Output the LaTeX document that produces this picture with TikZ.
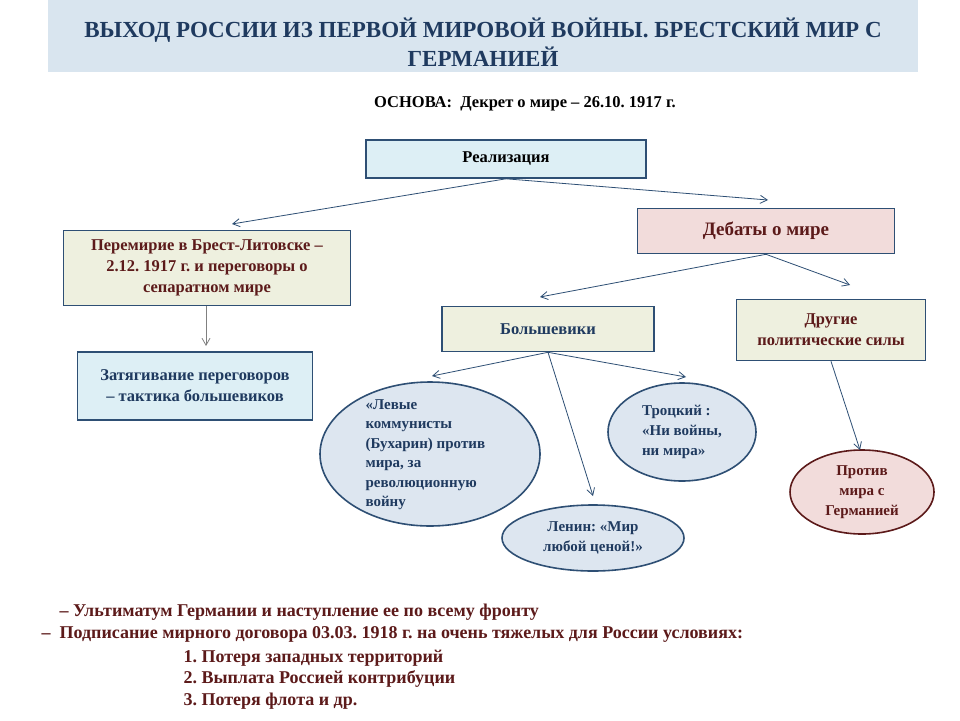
\documentclass[tikz,border=0pt]{standalone}
\usepackage{fontspec}
\setmainfont{Liberation Serif}
\frenchspacing
\usepackage{tikz}
\usetikzlibrary{arrows.meta, calc, shapes.geometric}
\definecolor{Navy}{HTML}{1F3A5F}
\definecolor{Frame}{HTML}{2E4F74}
\definecolor{Wine}{HTML}{5C1A1A}
\definecolor{Band}{HTML}{D9E5EF}
\definecolor{SkyFill}{HTML}{DDEFF5}
\definecolor{Olive}{HTML}{EEF0DF}
\definecolor{Rose}{HTML}{F2DCDB}
\definecolor{Oval}{HTML}{DDE6F0}
\tikzset{
  box/.style={draw=Frame, line width=1.6pt, align=center, font=\bfseries\fontsize{16.5}{21}\selectfont, inner sep=0pt},
  oval/.style={ellipse, draw=Frame, line width=1.6pt, fill=Oval, text=Navy, inner sep=0pt, font=\bfseries\fontsize{15}{20}\selectfont},
  link/.style={Frame, line width=0.8pt, -{Straight Barb[length=7pt, width=8pt]}}
}
\begin{document}
\begin{tikzpicture}[x=1pt, y=-1pt]
	\useasboundingbox (0,0) rectangle (960,720);
	\fill[white] (0,0) rectangle (960,720);

	\fill[Band] (48,0) rectangle (918,72);
	\node[text=Navy, align=center, font=\bfseries\fontsize{23}{29}\selectfont] (title) at (483,42)
		{ВЫХОД РОССИИ ИЗ ПЕРВОЙ МИРОВОЙ ВОЙНЫ. БРЕСТСКИЙ МИР С\\ГЕРМАНИЕЙ};
	\node[font=\bfseries\fontsize{16.5}{20}\selectfont] (basis) at (525,104) {ОСНОВА:\ \ Декрет о мире -- 26.10. 1917 г.};

	% boxes
	\node[box, fill=SkyFill, minimum width=280pt, minimum height=38pt, text=black] (real) at (506,159) {Реализация};
	\node[box, fill=Olive, minimum width=287pt, minimum height=75pt, text=Wine] (truce) at (207,268)
		{Перемирие в Брест-Литовске --\\2.12. 1917 г. и переговоры о\\сепаратном мире};
	\node[box, fill=Rose, minimum width=257pt, minimum height=45pt, text=Wine, font=\bfseries\fontsize{19}{23}\selectfont] (debate) at (766,231) {Дебаты о мире};
	\node[box, fill=Olive, minimum width=212pt, minimum height=45pt, text=Navy] (bolsh) at (548,329) {Большевики};
	\node[box, fill=Olive, minimum width=189pt, minimum height=61pt, text=Wine] (others) at (831,330) {Другие\\политические силы};
	\node[box, fill=SkyFill, minimum width=235pt, minimum height=68pt, text=Navy] (delay) at (195,386)
		{Затягивание переговоров\\-- тактика большевиков};

	% ovals
	\node[oval, minimum width=220pt, minimum height=144pt] (left) at (430,454) {};
	\node[text=Navy, align=left, anchor=north west, font=\bfseries\fontsize{15}{19.5}\selectfont] (lefttext) at (362,396)
		{«Левые\\коммунисты\\(Бухарин) против\\мира, за\\революционную\\войну};
	\node[oval, minimum width=148pt, minimum height=98pt, align=left] (trotsky) at (682,432) {Троцкий :\\«Ни войны,\\ни мира»};
	\node[oval, minimum width=182pt, minimum height=66pt, align=center] (lenin) at (593,538) {Ленин: «Мир\\любой ценой!»};
	\node[oval, draw=Wine, fill=Rose, text=Wine, minimum width=144pt, minimum height=84pt, align=center] (against) at (862,492) {Против\\мира с\\Германией};

	% arrows
	\draw[link] (real.south) -- (232,224);
	\draw[link] (real.south) -- (768,200);
	\draw[link] (debate.south) -- (540,297);
	\draw[link] (debate.south) -- (850,285);
	\draw[link, gray] (truce.south -| 206,0) -- (206,346);
	\draw[link] (bolsh.south) -- (432,376);
	\draw[link] (bolsh.south) -- (686,377);
	\draw[link] (bolsh.south) -- (593,496);
	\draw[link] (others.south) -- (860,450);

	% outcome
	\begin{scope}[every node/.style={anchor=west, text=Wine, font=\bfseries\fontsize{18}{21}\selectfont}]
		\node (ult) at (56,612) {-- Ультиматум Германии и наступление ее по всему фронту};
		\node (sign) at (38,634) {--\ \ Подписание мирного договора 03.03. 1918 г. на очень тяжелых для России условиях:};
		\node (loss1) at (180,658) {1. Потеря западных территорий};
		\node (loss2) at (180,679) {2. Выплата Россией контрибуции};
		\node (loss3) at (180,701) {3. Потеря флота и др.};
	\end{scope}
\end{tikzpicture}
\end{document}
